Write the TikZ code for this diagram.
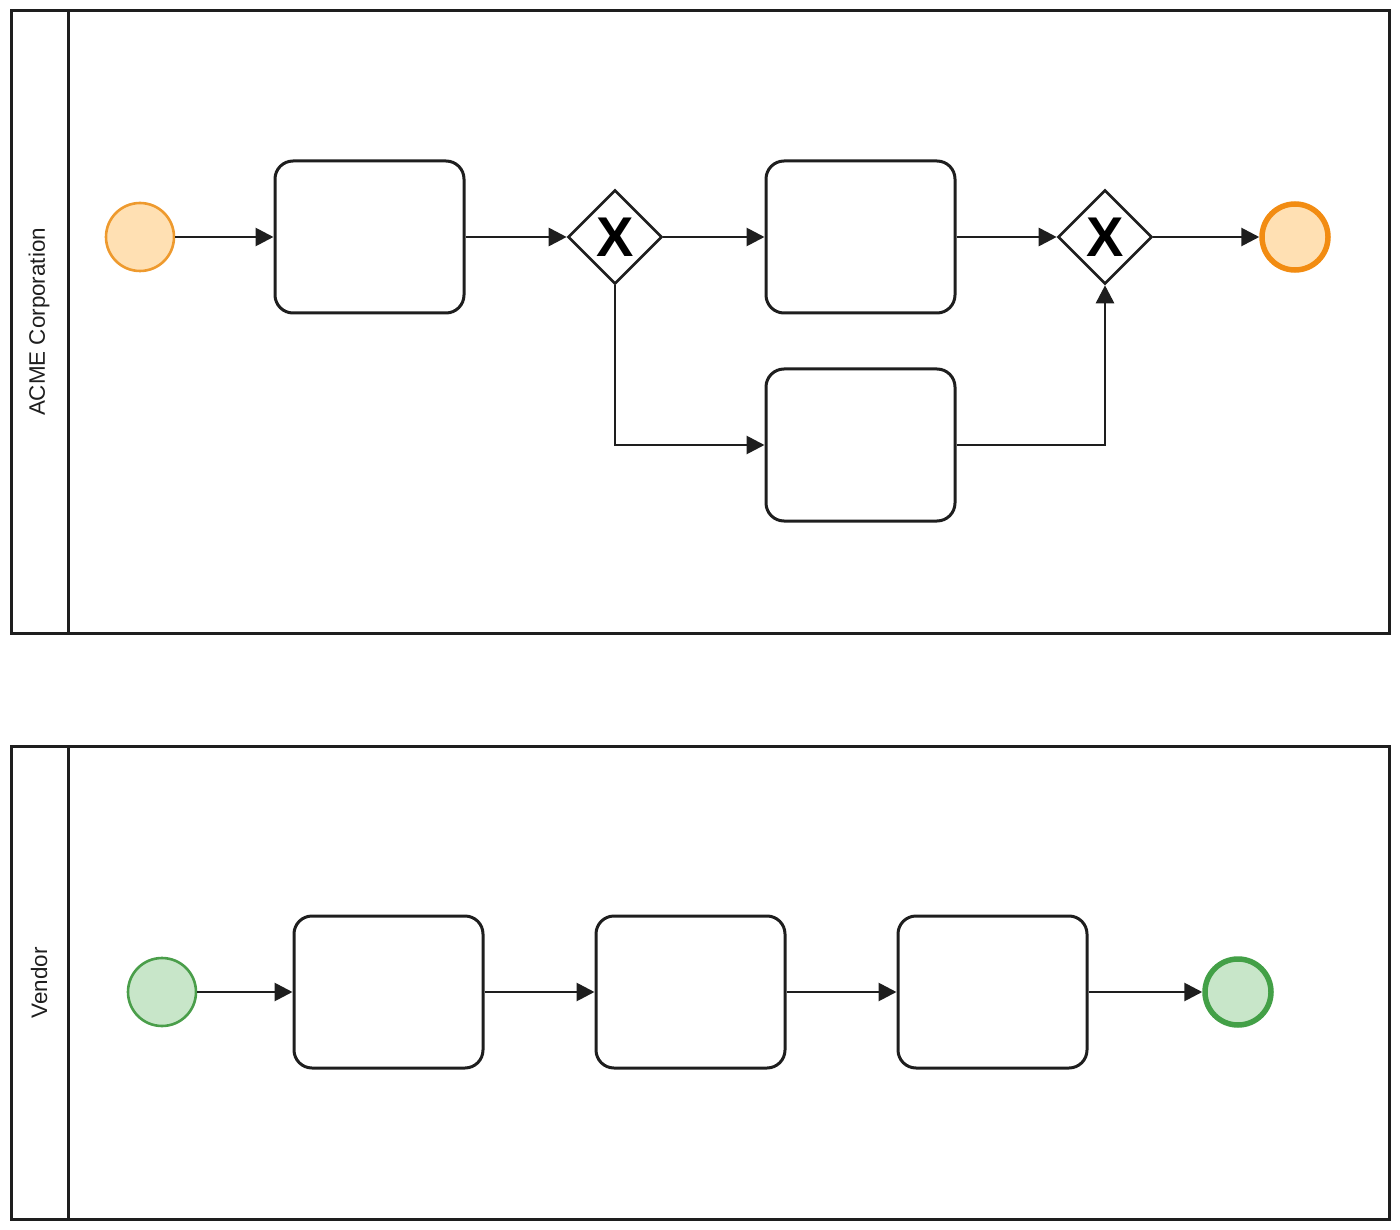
\documentclass[tikz,border=0pt]{standalone}
\usepackage{fontspec}
\setmainfont{Liberation Sans}
\usetikzlibrary{arrows.meta,shapes.geometric}
\definecolor{orgfill}{HTML}{FFE0B3}
\definecolor{orgline}{HTML}{EE9A2E}
\definecolor{orgend}{HTML}{F28C12}
\definecolor{grnfill}{HTML}{C8E6C9}
\definecolor{grnline}{HTML}{4A9E4A}
\definecolor{grnend}{HTML}{43A047}
\definecolor{ink}{HTML}{1E1E1E}
\tikzset{
  pool/.style={draw=ink,line width=3pt},
  task/.style={draw=ink,line width=3pt,rounded corners=18pt,minimum width=189pt,minimum height=152pt,inner sep=0pt,fill=white},
  gate/.style={draw=ink,line width=2.6pt,diamond,minimum width=94pt,minimum height=94pt,inner sep=0pt,fill=white,font=\bfseries\fontsize{56}{56}\selectfont},
  startev/.style={circle,minimum size=68pt,inner sep=0pt,line width=2.6pt},
  endev/.style={circle,minimum size=66pt,inner sep=0pt,line width=5.5pt},
  flow/.style={draw=ink,line width=2.8pt,-{Triangle[length=18pt,width=18pt]}},
  lanelabel/.style={rotate=90,font=\fontsize{22.4}{24}\selectfont,text=ink}
}
\begin{document}
\begin{tikzpicture}[x=1pt,y=-1pt]
\useasboundingbox (0,0) rectangle (1400,1230);
% pools
\draw[pool] (11,11) rectangle (1389,633);
\draw[pool] (68,11) -- (68,633);
\draw[pool] (11,746) rectangle (1389,1219);
\draw[pool] (68,746) -- (68,1219);
\node[lanelabel] (l1) at (39,322) {ACME Corporation};
\node[lanelabel] (l2) at (39,983) {Vendor};
% ACME
\node[startev,draw=orgline,fill=orgfill] (s1) at (140,237) {};
\node[task] (t1) at (369.5,237) {};
\node[gate] (g1) at (615,237) {X};
\node[task] (t2) at (860.5,237) {};
\node[gate] (g2) at (1105,237) {X};
\node[endev,draw=orgend,fill=orgfill] (e1) at (1295,237) {};
\node[task] (t3) at (860.5,445) {};
\draw[flow] (s1) -- (t1);
\draw[flow] (t1) -- (g1);
\draw[flow] (g1) -- (t2);
\draw[flow] (t2) -- (g2);
\draw[flow] (g2) -- (e1);
\draw[flow] (g1.south) |- (t3.west);
\draw[flow] (t3.east) -| (g2.south);
% Vendor
\node[startev,draw=grnline,fill=grnfill] (s2) at (162,992) {};
\node[task] (v1) at (388.5,992) {};
\node[task] (v2) at (690.5,992) {};
\node[task] (v3) at (992.5,992) {};
\node[endev,draw=grnend,fill=grnfill] (e2) at (1238,992) {};
\draw[flow] (s2) -- (v1);
\draw[flow] (v1) -- (v2);
\draw[flow] (v2) -- (v3);
\draw[flow] (v3) -- (e2);
\end{tikzpicture}
\end{document}
